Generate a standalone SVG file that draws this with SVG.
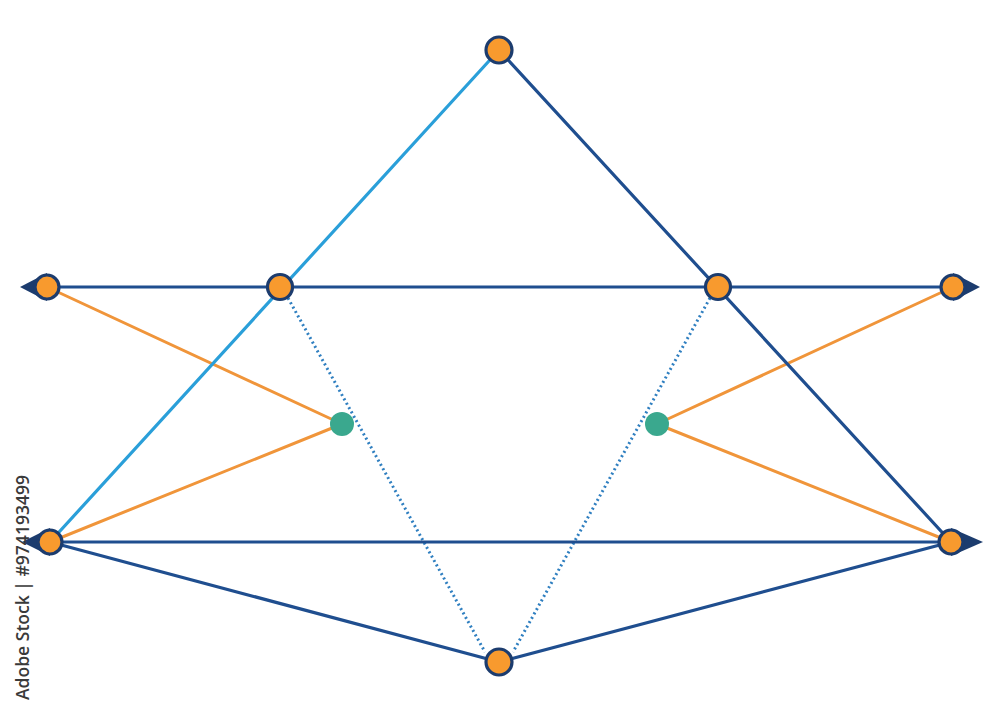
<svg xmlns="http://www.w3.org/2000/svg" width="1000" height="714" viewBox="0 0 1000 714">
<style>
.dark{stroke:#1f4e8f;stroke-width:3.2;fill:none;stroke-linecap:round}
.light{stroke:#2a9fd9;stroke-width:3.2;fill:none;stroke-linecap:round}
.orange{stroke:#f0953a;stroke-width:3;fill:none;stroke-linecap:round}
.dot{stroke:#2f7fc0;stroke-width:3;fill:none;stroke-dasharray:2 3}
.node{fill:#f89a2e;stroke:#1c3c6e;stroke-width:3.2}
.teal{fill:#3aa88e}
.tip{fill:#1c3c6e}
.wm{font-family:"Open Sans","Liberation Sans",Arial,sans-serif;font-size:18px;fill:#3a3a3a;font-weight:600}
</style>
<rect width="1000" height="714" fill="#ffffff"/>
<g id="connectors">
<line class="orange" x1="47" y1="287" x2="342" y2="424"/>
<line class="orange" x1="50" y1="542" x2="342" y2="424"/>
<line class="orange" x1="953" y1="287" x2="657" y2="424"/>
<line class="orange" x1="951" y1="542" x2="657" y2="424"/>
<line class="dot" x1="288" y1="298" x2="485" y2="652"/>
<line class="dot" x1="710" y1="298" x2="513" y2="652"/>
<line class="dark" x1="47" y1="287" x2="953" y2="287"/>
<line class="dark" x1="50" y1="542" x2="951" y2="542"/>
<line class="dark" x1="50" y1="542" x2="499" y2="662"/>
<line class="dark" x1="499" y1="662" x2="951" y2="542"/>
<line class="dark" x1="499" y1="50" x2="951" y2="542"/>
<line class="light" x1="499" y1="50" x2="50" y2="542"/>
</g>
<g id="n-left-top"><path class="tip" d="M20 287 L47 273 L47 301 Z"/><circle class="node" cx="47" cy="287" r="12"/></g>
<g id="n-left-bottom"><path class="tip" d="M22 542 L50 528 L50 556 Z"/><circle class="node" cx="50" cy="542" r="12"/></g>
<g id="n-right-top"><path class="tip" d="M980 287 L953 273 L953 301 Z"/><circle class="node" cx="953" cy="287" r="12"/></g>
<g id="n-right-bottom"><path class="tip" d="M983 542 L951 528 L951 556 Z"/><circle class="node" cx="951" cy="542" r="12"/></g>
<g id="n-top"><circle class="node" cx="499" cy="50" r="13"/></g>
<g id="n-bottom"><circle class="node" cx="499" cy="662" r="13"/></g>
<g id="n-mid-left"><circle class="node" cx="280" cy="287" r="12.5"/></g>
<g id="n-mid-right"><circle class="node" cx="718" cy="287" r="12.5"/></g>
<g id="n-teal-left"><circle class="teal" cx="342" cy="424" r="12"/></g>
<g id="n-teal-right"><circle class="teal" cx="657" cy="424" r="12"/></g>
<text class="wm" transform="translate(29,700) rotate(-90)" textLength="225" lengthAdjust="spacingAndGlyphs">Adobe Stock | #974193499</text>
</svg>
